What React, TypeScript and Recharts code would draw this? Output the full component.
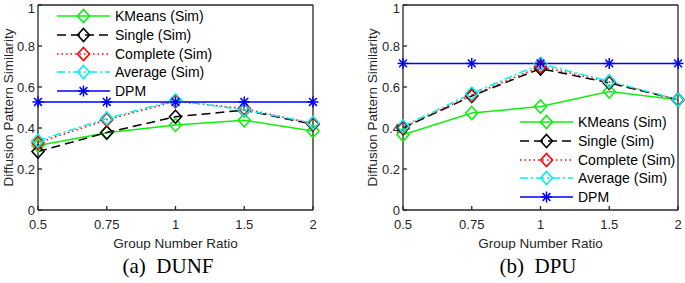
import { LineChart, Line, XAxis, YAxis, Legend } from "recharts";

const ratios = ["0.5", "0.75", "1", "1.5", "2"];
const yTicks = [0, 0.2, 0.4, 0.6, 0.8, 1];

// (a) DUNF
const dunfKMeans = [0.315, 0.377, 0.415, 0.438, 0.385];
const dunfSingle = [0.285, 0.378, 0.455, 0.487, 0.418];
const dunfComplete = [0.328, 0.44, 0.53, 0.495, 0.42];
const dunfAverage = [0.338, 0.447, 0.535, 0.488, 0.425];
const dunfDPM = [0.527, 0.527, 0.527, 0.527, 0.527];

// (b) DPU
const dpuKMeans = [0.367, 0.473, 0.505, 0.578, 0.538];
const dpuSingle = [0.4, 0.556, 0.69, 0.62, 0.538];
const dpuComplete = [0.403, 0.56, 0.7, 0.625, 0.538];
const dpuAverage = [0.408, 0.568, 0.713, 0.628, 0.538];
const dpuDPM = [0.715, 0.715, 0.715, 0.715, 0.715];

const seriesNames = ["KMeans (Sim)", "Single (Sim)", "Complete (Sim)", "Average (Sim)", "DPM"];
const seriesKeys = ["kmeans", "single", "complete", "average", "dpm"];

const styles: Record<string, { color: string; dash?: string; marker: "diamond" | "star" }> = {
	kmeans: { color: "#10ee10", marker: "diamond" },
	single: { color: "#000000", dash: "9 5", marker: "diamond" },
	complete: { color: "#ff0000", dash: "1.5 3", marker: "diamond" },
	average: { color: "#00f0f0", dash: "8 3 2 3", marker: "diamond" },
	dpm: { color: "#0000ff", marker: "star" },
};

const sans = "'Liberation Sans', Arial, sans-serif";
const axisColor = "#262626";

const buildRows = (cols: number[][]) =>
	ratios.map((r, i) => ({
		ratio: r,
		kmeans: cols[0][i],
		single: cols[1][i],
		complete: cols[2][i],
		average: cols[3][i],
		dpm: cols[4][i],
	}));

const dunfData = buildRows([dunfKMeans, dunfSingle, dunfComplete, dunfAverage, dunfDPM]);
const dpuData = buildRows([dpuKMeans, dpuSingle, dpuComplete, dpuAverage, dpuDPM]);

function Marker({ cx, cy, kind, color }: { cx: number; cy: number; kind: string; color: string }) {
	if (kind === "star") {
		const d = 5.5;
		const e = 3.9;
		return (
			<g stroke={color} strokeWidth={1.5}>
				<line x1={cx - d} y1={cy} x2={cx + d} y2={cy} />
				<line x1={cx} y1={cy - d} x2={cx} y2={cy + d} />
				<line x1={cx - e} y1={cy - e} x2={cx + e} y2={cy + e} />
				<line x1={cx - e} y1={cy + e} x2={cx + e} y2={cy - e} />
			</g>
		);
	}
	return (
		<path
			d={`M${cx},${cy - 6.5} L${cx + 6},${cy} L${cx},${cy + 6.5} L${cx - 6},${cy} Z`}
			fill="none"
			stroke={color}
			strokeWidth={1.6}
		/>
	);
}

const dotFor = (key: string) => (props: any) => {
	const s = styles[key];
	return (
		<g key={`${key}-${props.index}`}>
			<Marker cx={props.cx} cy={props.cy} kind={s.marker} color={s.color} />
		</g>
	);
};

function LegendBox() {
	return (
		<div style={{ fontFamily: sans, fontSize: 14, color: "#000" }}>
			{seriesKeys.map((k, i) => {
				const s = styles[k];
				return (
					<div key={k} style={{ display: "flex", alignItems: "center", height: 18.8 }}>
						<svg width={53} height={18}>
							<line x1={0} y1={9} x2={53} y2={9} stroke={s.color} strokeWidth={1.5} strokeDasharray={s.dash} />
							<Marker cx={26.5} cy={9} kind={s.marker} color={s.color} />
						</svg>
						<span style={{ marginLeft: 5, whiteSpace: "nowrap" }}>{seriesNames[i]}</span>
					</div>
				);
			})}
		</div>
	);
}

function Panel({
	data,
	width,
	marginRight,
	yAxisWidth,
	yLabelOffset,
	legendPos,
}: {
	data: any[];
	width: number;
	marginRight: number;
	yAxisWidth: number;
	yLabelOffset: number;
	legendPos: { left: number; top: number };
}) {
	return (
		<LineChart
			width={width}
			height={250}
			data={data}
			margin={{ top: 4, right: marginRight, left: 0, bottom: 0 }}
			style={{ fontFamily: sans }}
		>
			<XAxis
				dataKey="ratio"
				type="category"
				scale="point"
				padding={{ left: 0, right: 0 }}
				interval={0}
				height={40}
				stroke={axisColor}
				strokeWidth={1.3}
				tickSize={-4}
				tickMargin={13.5}
				tick={{ fontSize: 13, fill: axisColor }}
				label={{ value: "Group Number Ratio", position: "insideBottom", offset: 2, fontSize: 13.5, fill: axisColor }}
			/>
			<XAxis
				xAxisId="top"
				orientation="top"
				dataKey="ratio"
				type="category"
				scale="point"
				padding={{ left: 0, right: 0 }}
				interval={0}
				height={1}
				stroke={axisColor}
				strokeWidth={1.3}
				tickSize={-4}
				tick={false}
			/>
			<YAxis
				type="number"
				domain={[0, 1]}
				ticks={yTicks}
				width={yAxisWidth}
				stroke={axisColor}
				strokeWidth={1.3}
				tickSize={-4}
				tickMargin={7}
				tick={{ fontSize: 13, fill: axisColor }}
				label={{
					value: "Diffusion Pattern Similarity",
					angle: -90,
					position: "insideLeft",
					offset: yLabelOffset,
					fontSize: 13.5,
					fill: axisColor,
					style: { textAnchor: "middle" },
				}}
			/>
			<YAxis
				yAxisId="right"
				orientation="right"
				type="number"
				domain={[0, 1]}
				ticks={yTicks}
				width={1}
				stroke={axisColor}
				strokeWidth={1.3}
				tickSize={-4}
				tick={false}
			/>
			<Legend
				layout="vertical"
				align="center"
				verticalAlign="middle"
				content={() => <LegendBox />}
				wrapperStyle={{ left: legendPos.left, top: legendPos.top, width: 170 }}
			/>
			{seriesKeys.map((k, i) => (
				<Line
					key={k}
					dataKey={k}
					name={seriesNames[i]}
					stroke={styles[k].color}
					strokeWidth={1.5}
					strokeDasharray={styles[k].dash}
					dot={dotFor(k)}
					activeDot={false}
					isAnimationActive={false}
				/>
			))}
		</LineChart>
	);
}

const captionStyle: React.CSSProperties = {
	position: "absolute",
	top: 254,
	fontFamily: "'Liberation Serif', 'DejaVu Serif', serif",
	fontSize: 21,
	whiteSpace: "pre",
	transform: "translateX(-50%)",
	color: "#000",
};

export default function App() {
	return (
		<div style={{ position: "absolute", left: 0, top: 0, width: 685, height: 283, background: "#fff" }}>
			<div style={{ position: "absolute", left: 0, top: 0 }}>
				<Panel data={dunfData} width={340} marginRight={26} yAxisWidth={38} yLabelOffset={8} legendPos={{ left: 57, top: 6.6 }} />
			</div>
			<div style={{ position: "absolute", left: 340, top: 0 }}>
				<Panel data={dpuData} width={345} marginRight={6} yAxisWidth={63} yLabelOffset={32} legendPos={{ left: 180, top: 112.6 }} />
			</div>
			<div style={{ ...captionStyle, left: 168 }}>(a)  DUNF</div>
			<div style={{ ...captionStyle, left: 538 }}>(b)  DPU</div>
		</div>
	);
}
